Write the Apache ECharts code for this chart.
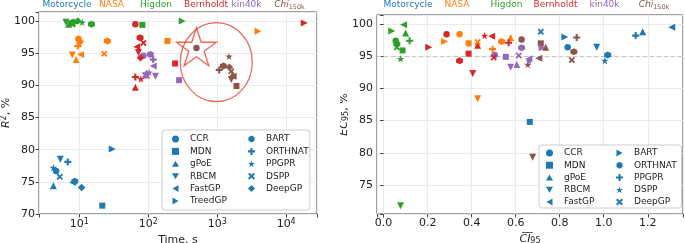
<!DOCTYPE html>
<html>
<head>
<meta charset="utf-8">
<script src="https://cdn.jsdelivr.net/npm/echarts@6/dist/echarts.min.js"></script>
<style>
  html, body { margin: 0; padding: 0; background: #fff; }
  #left { position: absolute; left: 0; top: 0; width: 340px; height: 243px; }
  #right { position: absolute; left: 340px; top: 0; width: 345px; height: 243px; }
</style>
</head>
<body>
<div id="left"></div>
<div id="right"></div>
<script>
// datasets, in the order used by every point array below
const datasets = ["Motorcycle", "NASA", "Higdon", "Bernholdt", "kin40k", "Chi150k"];
const datasetColors = ["#1f77b4", "#ff7f0e", "#2ca02c", "#d62728", "#9467bd", "#8c564b"];

// left panel: [time s, R2 %] per dataset
const leftCCR = [[4.6, 76.7], [9.7, 97.2], [7.8, 99.7], [65, 99.5], [85, 94.6], [500, 95.8]];
const leftMDN = [[21.5, 71.3], [190, 96.9], [82, 99.4], [245, 93.4], [280, 90.8], [1900, 89.9]];
const leftGPoE = [[4.2, 74.4], [9.0, 94.0], [7.0, 99.5], [65, 89.7], [95, 91.6], [1650, 91.6]];
const leftRBCM = [[5.3, 78.5], [7.9, 94.7], [6.4, 99.8], [72, 95.1], [127, 91.4], [1600, 90.9]];
const leftFastGP = [[8.0, 74.9], [10.4, 94.8], [7.5, 99.9], [68, 96.0], [118, 93.0], [1700, 91.4]];
const leftTreedGP = [[30, 80.1], [3900, 98.4], [310, 100.0], [18300, 99.7], null, null];
const leftBART = [[8.6, 75.1], [25.5, 96.9], [15, 99.5], [76, 97.4], [107, 94.8], [1230, 93.0]];
const leftORTHNAT = [[6.8, 78.1], [9.5, 96.1], [8.5, 99.7], [65, 91.3], [118, 94.0], [1070, 92.4]];
const leftPPGPR = [[4.2, 77.2], [10, 96.5], [11, 99.8], [78, 91.0], [103, 92.0], [1480, 94.5]];
const leftDSPP = [[5.2, 75.8], [23, 94.9], [8.0, 99.5], [85, 96.6], [90, 91.6], [1600, 92.2]];
const leftDeepGP = [[10.8, 74.1], [10.3, 96.8], [9.5, 100.0], [77, 94.3], [95, 91.8], [1500, 92.8]];

// highlighted region / point on the left panel
const highlightRegion = [[970, 93.6]];
const highlightPoint = [[500, 96.0]];

// right panel: [mean CI95 width, EC95 %] per dataset
const rightCCR = [[0.836, 96.4], [0.345, 98.4], [0.055, 97.4], [0.286, 98.4], [0.505, 95.2], [0.627, 97.6]];
const rightMDN = [[0.664, 84.8], [0.386, 97.0], [0.086, 95.9], [0.386, 95.4], [0.555, 94.9], [0.714, 97.0]];
const rightGPoE = [[1.177, 98.8], [0.577, 97.9], [0.1, 98.6], [0.427, 96.7], [0.605, 93.7], [0.736, 96.4]];
const rightRBCM = [[0.968, 96.4], [0.427, 88.4], [0.077, 71.8], [0.405, 92.3], [0.577, 93.3], [0.677, 79.3]];
const rightFastGP = [[1.309, 99.5], null, [0.091, 99.9], [0.491, 98.1], [0.66, 94.6], [0.705, 94.7]];
const rightBART = [[0.823, 98.0], [0.277, 97.3], [0.037, 98.9], [0.205, 96.4], [0.72, 96.3], null];
const rightORTHNAT = [[1.018, 95.2], [0.536, 97.3], [0.06, 96.9], [0.345, 94.3], [0.627, 96.3], [0.864, 95.7]];
const rightPPGPR = [[1.145, 98.2], [0.495, 96.1], [0.118, 97.4], [0.568, 97.1], null, [0.877, 97.9]];
const rightDSPP = [[1.005, 94.3], null, [0.077, 94.6], [0.459, 98.2], [0.66, 94.3], [0.655, 93.7]];
const rightDeepGP = [[0.714, 98.8], [0.427, 97.2], [0.06, 96.4], [0.5, 94.8], [0.614, 95.1], [0.855, 94.4]];

const FONT = "DejaVu Sans";

// marker shapes (matplotlib-like)
const STAR = "path://M0,-10 L2.245,-3.09 L9.511,-3.09 L3.633,1.18 L5.878,8.09 L0,3.82 L-5.878,8.09 L-3.633,1.18 L-9.511,-3.09 L-2.245,-3.09 Z";
const M = {
  circle: { symbol: "circle", size: 6.5 },
  square: { symbol: "rect", size: 6 },
  up: { symbol: "path://M0,-8.66 L10,8.66 L-10,8.66 Z", size: 7 },
  down: { symbol: "path://M-10,-8.66 L10,-8.66 L0,8.66 Z", size: 7 },
  left: { symbol: "path://M8.66,-10 L8.66,10 L-8.66,0 Z", size: 7 },
  right: { symbol: "path://M-8.66,-10 L-8.66,10 L8.66,0 Z", size: 7 },
  hexagon: { symbol: "path://M0,-10 L8.66,-5 L8.66,5 L0,10 L-8.66,5 L-8.66,-5 Z", size: 7 },
  plus: { symbol: "path://M-3,-10 H3 V-3 H10 V3 H3 V10 H-3 V3 H-10 V-3 H-3 Z", size: 7 },
  star: { symbol: STAR, size: 7.5 },
  cross: { symbol: "path://M-10,-6 L-6,-10 L0,-4 L6,-10 L10,-6 L4,0 L10,6 L6,10 L0,4 L-6,10 L-10,6 L-4,0 Z", size: 6.5 },
  diamond: { symbol: "diamond", size: 7.5 },
};

const makeSeries = (name, points, m) => ({
  type: "scatter",
  name: name,
  symbol: m.symbol,
  symbolSize: m.size,
  itemStyle: { color: datasetColors[0], opacity: 1 },
  data: points
    .map((p, i) => (p ? { value: p, itemStyle: { color: datasetColors[i] } } : null))
    .filter((p) => p),
});

// dataset names above each panel
const datasetLabels = (centers) =>
  datasets.map((d, i) => ({
    type: "text",
    x: centers[i],
    y: 5,
    style: {
      text: d === "Chi150k" ? "{i|Chi}{s|150k}" : d,
      fill: datasetColors[i],
      font: "9px " + FONT,
      align: "center",
      verticalAlign: "middle",
      rich: {
        i: { fontStyle: "italic", fontSize: 9, fill: datasetColors[i], fontFamily: FONT },
        s: { fontSize: 6.5, fill: datasetColors[i], fontFamily: FONT, padding: [5, 0, 0, 0] },
      },
    },
  }));

const legendBase = {
  orient: "vertical",
  itemWidth: 7,
  itemHeight: 7,
  itemGap: 2.4,
  textStyle: { fontSize: 9, fontFamily: FONT, color: "#222", lineHeight: 10, padding: [0, 0, 0, 6] },
};
const legendBox = {
  backgroundColor: "rgba(255,255,255,0.85)",
  borderColor: "#cccccc",
  borderWidth: 1,
  borderRadius: 3,
};

const gridCommon = { show: true, borderColor: "#444", borderWidth: 1, backgroundColor: "#fff", outerBoundsMode: "none" };

const axisCommon = {
  splitLine: { show: true, lineStyle: { color: "#ebebeb", width: 1 } },
  axisLine: { show: false },
  axisTick: { show: true, length: 3.5, lineStyle: { color: "#444" } },
  axisLabel: { fontSize: 11, fontFamily: FONT, color: "#222", margin: 4 },
};

const nameRich = {
  i: { fontSize: 11, fontStyle: "italic", fontFamily: FONT, color: "#222" },
  sup: { fontSize: 8, fontFamily: FONT, color: "#222", verticalAlign: "top", padding: [0, 0, 4, 0] },
  sub: { fontSize: 8, fontFamily: FONT, color: "#222", verticalAlign: "bottom", padding: [4, 0, 0, 0] },
  n: { fontSize: 11, fontFamily: FONT, color: "#222" },
};

const everyFive = (v) => (Math.abs(v / 5 - Math.round(v / 5)) < 1e-6 ? String(Math.round(v)) : "");

// ---------- left panel ----------
const leftChart = echarts.init(document.getElementById("left"));
const leftSeries = [
  makeSeries("CCR", leftCCR, M.circle),
  makeSeries("MDN", leftMDN, M.square),
  makeSeries("gPoE", leftGPoE, M.up),
  makeSeries("RBCM", leftRBCM, M.down),
  makeSeries("FastGP", leftFastGP, M.left),
  makeSeries("TreedGP", leftTreedGP, M.right),
  makeSeries("BART", leftBART, M.hexagon),
  makeSeries("ORTHNAT", leftORTHNAT, M.plus),
  makeSeries("PPGPR", leftPPGPR, M.star),
  makeSeries("DSPP", leftDSPP, M.cross),
  makeSeries("DeepGP", leftDeepGP, M.diamond),
  {
    type: "scatter",
    name: "region",
    symbol: "circle",
    symbolSize: [72, 79],
    silent: true,
    itemStyle: { color: "rgba(0,0,0,0)", borderColor: "#e8412c", borderWidth: 1.3 },
    data: highlightRegion,
  },
  {
    type: "scatter",
    name: "point",
    symbol: STAR,
    symbolSize: [40, 38],
    silent: true,
    itemStyle: { color: "rgba(0,0,0,0)", borderColor: "#e8412c", borderWidth: 1.3 },
    data: highlightPoint,
  },
];

leftChart.setOption({
  animation: false,
  grid: { ...gridCommon, left: 39, top: 12, width: 278, bottom: 29 },
  xAxis: {
    ...axisCommon,
    type: "log",
    logBase: 10,
    min: 2.6,
    max: 28000,
    splitNumber: 4,
    name: "Time, s",
    nameLocation: "middle",
    nameGap: 16,
    nameTextStyle: { fontSize: 11, fontFamily: FONT, color: "#222" },
    axisLabel: {
      ...axisCommon.axisLabel,
      formatter: (v) => {
        const e = Math.log10(v);
        return Math.abs(e - Math.round(e)) < 1e-6 ? "10{sup|" + Math.round(e) + "}" : "";
      },
      rich: { sup: nameRich.sup },
    },
  },
  yAxis: {
    ...axisCommon,
    type: "value",
    min: 70,
    max: 101.4,
    interval: 5,
    name: "{i|R}{sup|2}{n|, %}",
    nameLocation: "middle",
    nameGap: 27,
    nameMoveOverlap: false,
    nameTextStyle: { rich: nameRich },
    axisLabel: { ...axisCommon.axisLabel, formatter: everyFive },
  },
  legend: [
    {
      ...legendBase,
      ...legendBox,
      left: 162,
      top: 130,
      padding: [4, 83, 4, 10],
      data: ["CCR", "MDN", "gPoE", "RBCM", "FastGP", "TreedGP"],
    },
    {
      ...legendBase,
      left: 248,
      top: 134,
      padding: 0,
      data: ["BART", "ORTHNAT", "PPGPR", "DSPP", "DeepGP"],
    },
  ],
  graphic: datasetLabels([67, 111.5, 156, 206, 246.5, 289.5]),
  series: leftSeries,
});

// ---------- right panel ----------
const rightChart = echarts.init(document.getElementById("right"));
const rightSeries = [
  makeSeries("CCR", rightCCR, M.circle),
  makeSeries("MDN", rightMDN, M.square),
  makeSeries("gPoE", rightGPoE, M.up),
  makeSeries("RBCM", rightRBCM, M.down),
  makeSeries("FastGP", rightFastGP, M.left),
  makeSeries("BART", rightBART, M.right),
  makeSeries("ORTHNAT", rightORTHNAT, M.hexagon),
  makeSeries("PPGPR", rightPPGPR, M.plus),
  makeSeries("DSPP", rightDSPP, M.star),
  makeSeries("DeepGP", rightDeepGP, M.cross),
];
// nominal 95% coverage line
rightSeries[0].markLine = {
  silent: true,
  symbol: "none",
  label: { show: false },
  lineStyle: { color: "#c4c4c4", type: [4, 3], width: 1 },
  data: [{ yAxis: 95 }],
  z: 1,
};

rightChart.setOption({
  animation: false,
  grid: { ...gridCommon, left: 37, top: 15, right: 2, bottom: 29 },
  xAxis: {
    ...axisCommon,
    type: "value",
    min: -0.03,
    max: 1.36,
    splitNumber: 7,
    name: "{i|C\u0305I\u0305}{sub|95}",
    nameLocation: "middle",
    nameGap: 17,
    nameTextStyle: { rich: nameRich },
    axisLabel: {
      ...axisCommon.axisLabel,
      formatter: (v) => {
        const r = Math.round(v * 5) / 5;
        return Math.abs(v - r) < 1e-6 ? r.toFixed(1) : "";
      },
    },
  },
  yAxis: {
    ...axisCommon,
    type: "value",
    min: 70.5,
    max: 101.4,
    splitNumber: 6,
    name: "{i|EC}{sub|95}{n|, %}",
    nameLocation: "middle",
    nameGap: 27,
    nameMoveOverlap: false,
    nameTextStyle: { rich: nameRich },
    axisLabel: { ...axisCommon.axisLabel, formatter: everyFive },
  },
  legend: [
    {
      ...legendBase,
      ...legendBox,
      left: 199,
      top: 145,
      itemGap: 2.25,
      padding: [3, 87, 1, 7],
      data: ["CCR", "MDN", "gPoE", "RBCM", "FastGP"],
    },
    {
      ...legendBase,
      left: 276,
      top: 148,
      itemGap: 2.25,
      padding: 0,
      data: ["BART", "ORTHNAT", "PPGPR", "DSPP", "DeepGP"],
    },
  ],
  graphic: datasetLabels([68, 117, 166.5, 215.5, 264.5, 314]),
  series: rightSeries,
});
</script>
</body>
</html>
